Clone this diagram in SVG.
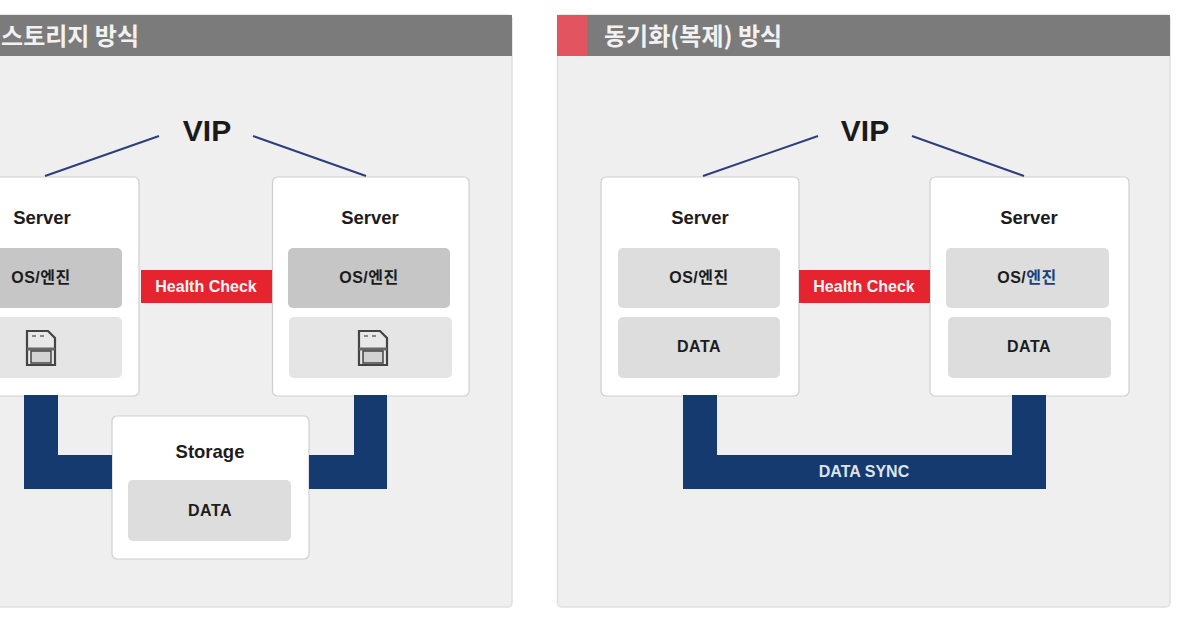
<svg xmlns="http://www.w3.org/2000/svg" width="1200" height="630" viewBox="0 0 1200 630">
<style>
text{font-family:"Liberation Sans","Noto Sans CJK KR",sans-serif;text-anchor:middle;font-weight:700;fill:#1c1c1c}
.panel{fill:#efefef;stroke:#dfdfdf;stroke-width:1.5}
.head{fill:#7b7b7b}
.title{font-family:"Noto Sans CJK KR","Liberation Sans",sans-serif;font-size:24px;fill:#f2f2f2;font-weight:700}
.card{fill:#fff;stroke:#cfcfcf;stroke-width:1.2}
.dark{fill:#c6c6c6}
.mid{fill:#dddddd}
.light{fill:#e5e5e5}
.vip{font-size:30px;fill:#1a1a1a}
.srv{font-size:18.500px}
.sm{font-size:16px;letter-spacing:.5px}
.hc{fill:#e5242f}
.hct{font-size:16px;fill:#f6f6f6}
.line{stroke:#2c3f7c;stroke-width:2;fill:none}
.bus{fill:#143a70}
.disk{fill:#e8e8e8;stroke:#444;stroke-width:2.200}
</style>
<defs>
<g id="disk">
<path class="disk" d="M-14,-17H7L14,-10V17H-14Z"/>
<path d="M-14,1H14" stroke="#666" stroke-width="3"/>
<rect x="-10" y="3" width="20" height="12" fill="#d2d2d2" stroke="#444" stroke-width="1.500"/>
<path d="M-9,-12H-5M-1,-12H3" stroke="#888" stroke-width="2"/>
</g>
</defs>

<g id="panel-left">
<rect class="panel" x="-20" y="15" width="532" height="592" rx="4"/>
<rect class="head" x="-20" y="15" width="532" height="41"/>
<text class="title" x="139" y="45" style="text-anchor:end">스토리지 방식</text>
</g>
<g id="panel-right">
<rect class="panel" x="557.500" y="15" width="612.500" height="592" rx="4"/>
<rect class="head" x="557" y="15" width="613" height="41"/>
<rect x="557" y="15" width="30" height="41" fill="#e2545f"/>
<text class="title" x="604" y="45" style="text-anchor:start">동기화(복제) 방식</text>
</g>

<g id="vip-left"><text class="vip" x="207" y="141">VIP</text></g>
<g id="vip-right"><text class="vip" x="865" y="141">VIP</text></g>

<g id="server-l1">
<rect class="card" x="-40" y="177" width="179" height="219" rx="5"/>
<text class="srv" x="42" y="224">Server</text>
<rect class="dark" x="-30" y="248" width="152" height="60" rx="5"/>
<text class="sm" x="41" y="283">OS/엔진</text>
<rect class="light" x="-30" y="317" width="152" height="61" rx="5"/>
<use href="#disk" x="41" y="348"/>
</g>
<g id="server-l2">
<rect class="card" x="272.500" y="177" width="196.500" height="219" rx="5"/>
<text class="srv" x="370" y="224">Server</text>
<rect class="dark" x="288" y="248" width="162" height="60" rx="5"/>
<text class="sm" x="369" y="283">OS/엔진</text>
<rect class="light" x="289" y="317" width="163" height="61" rx="5"/>
<use href="#disk" x="373" y="348"/>
</g>
<g id="health-left">
<rect class="hc" x="141" y="270" width="131" height="33"/>
<text class="hct" x="206" y="292">Health Check</text>
</g>
<g id="storage">
<rect class="card" x="112" y="416" width="197" height="143" rx="5"/>
<text class="srv" x="210" y="458">Storage</text>
<rect class="mid" x="128" y="480" width="163" height="61" rx="5"/>
<text class="sm" x="210" y="516">DATA</text>
</g>

<g id="server-r1">
<rect class="card" x="601" y="177" width="198" height="219" rx="5"/>
<text class="srv" x="700" y="224">Server</text>
<rect class="mid" x="618" y="248" width="162" height="60" rx="5"/>
<text class="sm" x="699" y="283">OS/엔진</text>
<rect class="mid" x="618" y="317" width="162" height="61" rx="5"/>
<text class="sm" x="699" y="352">DATA</text>
</g>
<g id="server-r2">
<rect class="card" x="930" y="177" width="199" height="219" rx="5"/>
<text class="srv" x="1029" y="224">Server</text>
<rect class="mid" x="946" y="248" width="163" height="60" rx="5"/>
<text class="sm" x="1027" y="283">OS/<tspan fill="#1d3f80">엔진</tspan></text>
<rect class="mid" x="948" y="317" width="163" height="61" rx="5"/>
<text class="sm" x="1029" y="352">DATA</text>
</g>
<g id="health-right">
<rect class="hc" x="799" y="270" width="131" height="33"/>
<text class="hct" x="864" y="292">Health Check</text>
</g>

<g id="connectors">
<path class="line" d="M159,136L45,176M253,136L366,176M818,136L703,176M912,136L1024,176"/>
<path class="bus" d="M24,395H58V455H112V489H24Z"/>
<path class="bus" d="M354,395H387V489H309V455H354Z"/>
<path class="bus" d="M683,395H717V455H1012V395H1046V489H683Z"/>
</g>
<g id="sync-label"><text x="864" y="477" font-size="16" style="fill:#dfe3ea">DATA SYNC</text></g>
</svg>
